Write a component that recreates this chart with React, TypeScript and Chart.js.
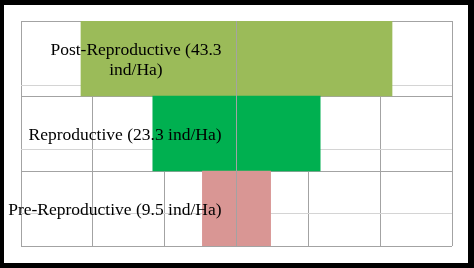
import React, { useEffect, useRef } from "react";
import { Chart, registerables } from "chart.js";

Chart.register(...registerables);

const categories = ["Post-Reproductive", "Reproductive", "Pre-Reproductive"];
const densities = [43.3, 23.3, 9.5];
const barColors = ["#9BBB59", "#00B050", "#D99694"];
const labelLines = [
  ["Post-Reproductive (43.3", "ind/Ha)"],
  ["Reproductive (23.3 ind/Ha)"],
  ["Pre-Reproductive (9.5 ind/Ha)"],
];
const xMin = -30;
const xMax = 30;
const xStep = 10;
const subRowMax = 6;

const DARK = "#a3a3a3";
const LIGHT = "#d4d4d4";
const FONT = '17.5px "Times New Roman", "Liberation Serif", serif';

const labelPlugin = {
  id: "pyramidLabels",
  afterDraw(chart: any) {
    const ctx = chart.ctx;
    const meta = chart.getDatasetMeta(0);
    const zero = chart.scales.x.getPixelForValue(0);
    const right = zero - 15;
    ctx.save();
    ctx.font = FONT;
    ctx.fillStyle = "#000000";
    ctx.textAlign = "center";
    ctx.textBaseline = "alphabetic";
    meta.data.forEach((el: any, i: number) => {
      const lines = labelLines[i];
      const w = ctx.measureText(lines[0]).width;
      const cx = right - w / 2;
      const lh = 20;
      lines.forEach((line: string, j: number) => {
        const y = el.y + 6.5 + (j - (lines.length - 1) / 2) * lh;
        ctx.fillText(line, cx, y);
      });
    });
    ctx.restore();
  },
};

export default function App() {
  const ref = useRef<HTMLCanvasElement>(null);
  useEffect(() => {
    if (!ref.current) return;
    const chart = new Chart(ref.current, {
      type: "bar",
      data: {
        labels: categories,
        datasets: [
          {
            data: densities.map((v) => [-v / 2, v / 2]) as any,
            backgroundColor: barColors,
            borderWidth: 0,
            barPercentage: 1,
            categoryPercentage: 1,
          },
        ],
      },
      options: {
        indexAxis: "y",
        animation: false,
        responsive: false,
        devicePixelRatio: 1,
        layout: { padding: { left: 21, top: 21, right: 22, bottom: 22 } },
        plugins: { legend: { display: false }, tooltip: { enabled: false } },
        scales: {
          x: {
            type: "linear",
            min: xMin,
            max: xMax,
            ticks: { stepSize: xStep, display: false },
            grid: { color: DARK, drawTicks: false, lineWidth: 1 },
            border: { display: false },
          },
          x2: {
            type: "linear",
            position: "top",
            min: xMin,
            max: xMax,
            ticks: { stepSize: xStep, display: false },
            grid: {
              z: 1,
              drawTicks: false,
              color: (c: any) => (c.tick && c.tick.value === 0 ? DARK : "rgba(0,0,0,0)"),
            },
            border: { display: false },
          },
          y: {
            type: "category",
            offset: true,
            ticks: { display: false },
            grid: { offset: true, color: DARK, drawTicks: false },
            border: { display: false },
          },
          y2: {
            type: "linear",
            position: "right",
            min: 0,
            max: subRowMax,
            ticks: { stepSize: 1, display: false },
            grid: {
              drawTicks: false,
              color: (c: any) => (c.tick && c.tick.value % 2 === 1 ? LIGHT : "rgba(0,0,0,0)"),
            },
            border: { display: false },
          },
        },
      } as any,
      plugins: [labelPlugin],
    });
    return () => chart.destroy();
  }, []);

  return (
    <div
      style={{
        position: "fixed",
        left: 0,
        top: 0,
        width: 474,
        height: 268,
        background: "#000000",
      }}
    >
      <div
        style={{
          position: "absolute",
          left: 4,
          top: 5,
          width: 464,
          height: 258,
          background: "#ffffff",
        }}
      />
      <canvas
        ref={ref}
        width={474}
        height={268}
        style={{ position: "absolute", left: 0, top: 0, width: 474, height: 268 }}
      />
    </div>
  );
}
